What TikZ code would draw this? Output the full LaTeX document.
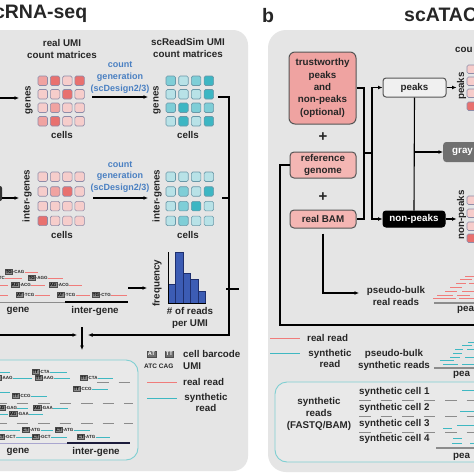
\documentclass[tikz,border=0pt]{standalone}
\usepackage{fontspec}
\setmainfont{Liberation Sans}
\usetikzlibrary{arrows.meta}
\definecolor{panelg}{HTML}{E5E5E5}
\definecolor{boxg}{HTML}{E9E9E9}
\definecolor{txt}{HTML}{262626}
\definecolor{bluetxt}{HTML}{4A80C2}
\definecolor{rA}{HTML}{F6CDCB}
\definecolor{rB}{HTML}{F0A3A1}
\definecolor{rC}{HTML}{E8716F}
\definecolor{tA}{HTML}{B8E2E7}
\definecolor{tB}{HTML}{7FCED7}
\definecolor{tC}{HTML}{3DB6C3}
\definecolor{rbord}{HTML}{8E8CA8}
\definecolor{tbord}{HTML}{6A98A8}
\definecolor{redline}{HTML}{F07C7A}
\definecolor{tealline}{HTML}{3FB8C2}
\definecolor{tealbox}{HTML}{7FCFD2}
\definecolor{histb}{HTML}{3C5CB4}
\definecolor{histd}{HTML}{1E2F6E}
\definecolor{pinkf}{HTML}{F4B6B3}
\definecolor{pinkd}{HTML}{EFA3A1}
\definecolor{boxb}{HTML}{555555}
\definecolor{chipg}{HTML}{8A8A8A}
\definecolor{chipd}{HTML}{6F6F6F}
\definecolor{grayzone}{HTML}{707070}
\definecolor{basegray}{HTML}{8C8C8C}
\definecolor{genelav}{HTML}{A9A6CF}
\definecolor{navy}{HTML}{1C1C3C}
\tikzset{
  lbl/.style={font=\fontsize{9.8}{11.8}\selectfont\bfseries, text=txt, align=center, inner sep=0pt},
  blu/.style={font=\fontsize{9}{11.6}\selectfont\bfseries, text=bluetxt, align=center, inner sep=0pt},
  ttl/.style={font=\fontsize{19.5}{21}\selectfont\bfseries, text=txt, inner sep=0pt},
  arr/.style={line width=1.1pt, -{Latex[length=4.5pt,width=4pt]}},
  ln/.style={line width=1.1pt},
  chip/.style={fill=chipg, draw=black!70, line width=0.3pt, font=\fontsize{4.5}{5}\selectfont\bfseries, inner xsep=0.6pt, inner ysep=1pt, text=black},
  umi/.style={font=\fontsize{4.5}{5}\selectfont\bfseries, inner sep=0pt, text=txt},
  chipL/.style={fill=chipd, draw=black!70, line width=0.3pt, font=\fontsize{5.5}{6}\selectfont\bfseries, inner xsep=0.8pt, inner ysep=1.2pt, text=white},
  umiL/.style={font=\fontsize{6.5}{7}\selectfont\bfseries, inner sep=0pt, text=txt},
  rread/.style={draw=redline, line width=1pt},
  sread/.style={draw=tealline, line width=1pt},
  pinkbox/.style={fill=pinkf, draw=boxb, line width=1pt, rounded corners=4pt, font=\fontsize{9.8}{12.3}\selectfont\bfseries, text=txt, align=center, inner sep=0pt},
  plus/.style={font=\fontsize{15}{15}\selectfont\bfseries, text=txt, inner sep=0pt},
  gdash/.style={draw=basegray, line width=1pt, dash pattern=on 11.5pt off 10pt},
  base/.style={draw=basegray, line width=1.6pt},
}
\newcommand\umimat[6]{%
  \foreach \mcol [count=\k from 0] in {#6} {%
    \pgfmathtruncatemacro\mrow{\k/4}%
    \pgfmathtruncatemacro\mcl{\k-4*\mrow}%
    \path[fill=\mcol, draw=#5, line width=0.6pt, rounded corners=1.5pt] ({#1+\mcl*#3},{#2+\mrow*#4}) rectangle ++(9.5,9.5);
  }}
\newcommand\rdd[6]{%
  \node[chip,anchor=west] (bcx) at (#1,#2) {#3};
  \node[umi,anchor=west] (umx) at (bcx.east) {-#4};
  \draw[#6] (umx.east) -- (#5,#2);}
\begin{document}
\begin{tikzpicture}[x=1pt,y=-1pt]
\useasboundingbox (0,0) rectangle (474,474);
\clip (0,0) rectangle (474,474);
\fill[white] (0,0) rectangle (474,474);
% panels
\path[fill=panelg, rounded corners=15pt] (-30,30) rectangle (248,471);
\path[fill=panelg, rounded corners=18pt] (268,30) rectangle (500,472);
% titles
\node[ttl, anchor=base west] (tA) at (-17,18.5) {scRNA-seq};
\node[ttl, anchor=base west] (tB) at (262,22) {b};
\node[ttl, anchor=base west] (tC) at (404,21.5) {scATAC};

% ---------- left panel ----------
\node[lbl] (t1) at (62,49) {real UMI\\count matrices};
\node[lbl] (t2) at (188,48) {scReadSim UMI\\count matrices};
\node[blu] (g1) at (120,77.5) {count\\generation\\(scDesign2/3)};
\node[blu] (g2) at (120,177) {count\\generation\\(scDesign2/3)};

\umimat{38}{76}{12.3}{13.5}{rbord}{rB,rC,rA,rC, rA,rA,rC,rA, rA,rB,rA,rA, rB,rC,rA,rA}
\umimat{166}{76}{12.7}{13.5}{tbord}{tB,tA,tB,tC, tA,tA,tA,tC, tB,tC,tB,tB, tA,tC,tA,tC}
\umimat{38}{172}{12.3}{14.7}{rbord}{rA,rA,rA,rA, rA,rB,rC,rA, rA,rA,rA,rA, rC,rA,rA,rA}
\umimat{166}{172}{12.7}{14.7}{tbord}{tA,tA,tA,tA, tA,tB,tA,tC, tA,tB,tC,tA, tA,tB,tA,tA}

\node[lbl,rotate=90] (gl1) at (29,100) {genes};
\node[lbl,rotate=90] (gl2) at (157,100) {genes};
\node[lbl] (c1) at (62,135) {cells};
\node[lbl] (c2) at (188,135) {cells};
\node[lbl,rotate=90] (il1) at (27,196) {inter-genes};
\node[lbl,rotate=90] (il2) at (157,196) {inter-genes};
\node[lbl] (c3) at (62,235) {cells};
\node[lbl] (c4) at (188,235) {cells};

\fill[black!80, rounded corners=2pt] (-10,186) rectangle (2,201);
\coordinate (in1) at (-5,98);
\coordinate (m1i) at (19,98);
\coordinate (in2) at (2,198);
\coordinate (m3i) at (19,198);
\draw[arr] (in1) -- (m1i);
\draw[arr] (in2) -- (m3i);
\draw[arr] (92,97) -- (148,97);
\draw[arr] (93,198) -- (148,198);
\draw[ln] (218,97) -| (229,198);
\draw[arr] (229,198) -- (229,335) -- (88,335);
\draw[ln] (222,198) -- (229,198);
\draw[ln] (226,289) -- (239,289);
\draw[arr] (-5,335) -- (77,335);
\draw[arr] (82,327) -- (82,350);

% real reads
\rdd{5}{272}{TG}{CAG}{38}{rread}
\rdd{-13}{278}{AT}{ATC}{22}{rread}
\rdd{28}{278}{TG}{AGG}{63}{rread}
\draw[rread] (-5,285) -- (8,285);
\rdd{11}{285}{AG}{ACG}{45}{rread}
\rdd{49}{285}{AG}{ACG}{82}{rread}
\draw[rread] (-5,295) -- (8,295);
\rdd{16}{295}{AT}{TCG}{50}{rread}
\rdd{57}{295}{AT}{TCG}{90}{rread}
\rdd{92}{295}{TG}{CTG}{127}{rread}
\draw[draw=basegray, line width=1pt] (-5,302) -- (65,302);
\draw[draw=black, line width=1.6pt] (65,302) -- (128,302);
\node[lbl] (gn1) at (18,311) {gene};
\node[lbl] (ig1) at (95,311) {inter-gene};
\draw[arr] (128,288) -- (147,288);

% histogram
\path[fill=histb, draw=histd, line width=0.5pt] (168,284) rectangle (175.5,303);
\path[fill=histb, draw=histd, line width=0.5pt] (175.5,252) rectangle (183,303);
\path[fill=histb, draw=histd, line width=0.5pt] (183,273) rectangle (190.5,303);
\path[fill=histb, draw=histd, line width=0.5pt] (190.5,279) rectangle (198,303);
\path[fill=histb, draw=histd, line width=0.5pt] (198,291) rectangle (205.5,303);
\draw[line width=1pt] (168,252) -- (168,303) -- (206,303);
\node[lbl,rotate=90] (fr) at (157,283) {frequency};
\node[lbl] (nr) at (190,318) {\# of reads\\per UMI};

% synthetic reads box
\draw[draw=tealbox, fill=boxg, line width=0.9pt, rounded corners=12pt] (-20,360) rectangle (138,460);
\draw[sread] (-5,372) -- (10,372);
\rdd{32}{372}{TT}{CTA}{67}{sread}
\rdd{-6}{378}{TT}{AAG}{32}{sread}
\rdd{35}{378}{TT}{AAG}{70}{sread}
\rdd{80}{378}{TT}{CTA}{113}{sread}
\draw[gdash] (97,382.5) -- (133,382.5);
\rdd{73}{389}{TT}{CCG}{108}{sread}
\draw[sread] (-5,392) -- (10,392);
\rdd{12}{396}{TT}{CCG}{47}{sread}
\draw[gdash] (-5,403) -- (133,403);
\rdd{-3}{408}{AG}{GAG}{28}{sread}
\rdd{33}{408}{AG}{GAA}{68}{sread}
\draw[sread] (-5,414) -- (8,414);
\rdd{9}{414}{AG}{GAA}{43}{sread}
\draw[gdash] (-5,423) -- (133,423);
\draw[sread] (-5,430) -- (20,430);
\rdd{22}{430}{CT}{ATG}{53}{sread}
\rdd{55}{430}{CT}{ATG}{90}{sread}
\rdd{-3}{437}{CT}{GCT}{32}{sread}
\rdd{32}{437}{CT}{GCT}{67}{sread}
\rdd{77}{437}{CT}{ATG}{110}{sread}
\draw[draw=genelav, line width=1pt] (-5,443) -- (67,443);
\draw[draw=navy, line width=1.6pt] (67,443) -- (130,443);
\node[lbl] (gn2) at (18,452) {gene};
\node[lbl] (ig2) at (96,452) {inter-gene};

% legend left
\node[chipL,anchor=west] (lAT) at (147,354) {AT};
\node[chipL,anchor=west] (lTT) at (165,354) {TT};
\node[lbl,anchor=west] (lcb) at (183,354) {cell barcode};
\node[umiL,anchor=west] (lumi) at (144,366) {ATC CAG};
\node[lbl,anchor=west] (lu) at (183,366) {UMI};
\draw[rread] (147,382) -- (177,382);
\node[lbl,anchor=west] (lrr) at (183,382) {real read};
\draw[sread] (147,398) -- (177,398);
\node[lbl] (lsr) at (206,402.5) {synthetic\\read};

% ---------- right panel ----------
\node[pinkbox, fill=pinkd, rounded corners=6pt, minimum width=67pt, minimum height=72pt] (trust) at (322.5,88) {trustworthy\\peaks\\and\\non-peaks\\(optional)};
\node[plus] (p1) at (323,137) {+};
\node[pinkbox, minimum width=66pt, minimum height=26pt] (ref) at (323,165) {reference\\genome};
\node[plus] (p2) at (323,197) {+};
\node[pinkbox, minimum width=66pt, minimum height=18pt] (bam) at (323,219) {real BAM};

\node[draw=boxb, fill=white!94!black, line width=1pt, rounded corners=3pt, minimum width=63pt, minimum height=19pt, inner sep=0pt, font=\fontsize{9.8}{11}\selectfont\bfseries, text=txt] (peaks) at (414.5,87.5) {peaks};
\node[draw=black, fill=black, line width=1pt, rounded corners=3pt, minimum width=62pt, minimum height=16pt, inner sep=0pt, font=\fontsize{9.8}{11}\selectfont\bfseries, text=white] (np) at (414,219) {non-peaks};
\node[fill=grayzone, rounded corners=3pt, anchor=west, minimum height=20pt, inner xsep=9pt, inner ysep=0pt, text width=40pt, align=left, font=\fontsize{9.8}{11}\selectfont\bfseries, text=white] (gz) at (443,152) {gray};

\draw[ln] (trust.east) -- (364,88) -- (364,219) -- (bam.east);
\draw[ln] (364,153) -- (372,153);
\draw[arr] (372,153) |- (peaks.west);
\draw[arr] (372,153) |- (np.west);
\draw[ln] (peaks.south) -- (np.north);
\draw[arr] (414,152) -- (gz.west);
\coordinate (pkin) at (456.5,87.5);
\coordinate (npin) at (456.5,219);
\draw[arr] (peaks.east) -- (pkin);
\draw[arr] (np.east) -- (npin);
\node[lbl,rotate=90] (pl) at (461.5,86) {peaks};
\node[lbl,rotate=90] (npl) at (461.5,215) {non-peaks};
\node[lbl,anchor=west] (cou) at (455,50) {cou};
\foreach \yy/\mc in {65/rA,77/rA,89/rA,102/rC}{
  \path[fill=\mc, draw=rbord, line width=0.6pt, rounded corners=1.5pt] (467,\yy) rectangle ++(9.5,8.5);}
\foreach \yy/\mc in {196/rA,209/rA,222/rA,234/rC}{
  \path[fill=\mc, draw=rbord, line width=0.6pt, rounded corners=1.5pt] (467,\yy) rectangle ++(9.5,8.5);}

\draw[ln] (ref.west) -- (280,165) -- (280,325) -- (480,325);
\coordinate (pbin) at (359,293);
\draw[arr] ([yshift=-5pt]bam.south) |- (pbin);
\node[lbl] (pbr) at (396,296) {pseudo-bulk\\real reads};

% red pile
\draw[rread] (465,276) -- (480,276);
\draw[rread] (460,279.5) -- (472,279.5);
\draw[rread] (456,283) -- (466,283);
\draw[rread] (469,283) -- (480,283);
\draw[rread] (450,287) -- (462,287);
\draw[rread] (445,291) -- (457,291);
\draw[rread] (462,291) -- (480,291);
\draw[rread] (437,295) -- (453,295);
\draw[rread] (457,295) -- (470,295);
\draw[rread] (433,298.5) -- (456,298.5);
\draw[rread] (459,298.5) -- (480,298.5);
\draw[base] (434,303) -- (480,303);
\node[lbl,anchor=west] (pea1) at (457,309.5) {pea};

% legend right
\draw[rread] (270,338) -- (300,338);
\node[lbl,anchor=west] (rrr) at (307,338) {real read};
\draw[sread] (270,353) -- (300,353);
\node[lbl] (rsr) at (330,358.5) {synthetic\\read};
\node[lbl] (pbs) at (394,360) {pseudo-bulk\\synthetic reads};

% teal pile
\draw[sread] (468,342) -- (480,342);
\draw[sread] (462,345.5) -- (472,345.5);
\draw[sread] (455,349) -- (463,349);
\draw[sread] (467,349) -- (480,349);
\draw[sread] (453,353) -- (462,353);
\draw[sread] (450,357) -- (460,357);
\draw[sread] (465,357) -- (480,357);
\draw[sread] (440,360.5) -- (454,360.5);
\draw[sread] (443,364) -- (458,364);
\draw[sread] (462,364) -- (480,364);
\draw[base] (434,368) -- (480,368);
\node[lbl,anchor=west] (pea2) at (453,375) {pea};

% synthetic cells box
\draw[draw=tealbox, fill=boxg, line width=0.9pt, rounded corners=12pt] (275,382) rectangle (500,462);
\node[lbl] (sfq) at (319,414) {synthetic\\reads\\(FASTQ/BAM)};
\node[lbl,anchor=west] (sc1) at (359,392) {synthetic cell 1};
\node[lbl,anchor=west] (sc2) at (359,408) {synthetic cell 2};
\node[lbl,anchor=west] (sc3) at (359,424) {synthetic cell 3};
\node[lbl,anchor=west] (sc4) at (359,439) {synthetic cell 4};
\draw[gdash] (359,400) -- (480,400);
\draw[gdash] (359,416) -- (480,416);
\draw[gdash] (359,432) -- (480,432);
\draw[sread] (462,390) -- (480,390);
\draw[sread] (460,411) -- (480,411);
\draw[sread] (443,428) -- (452,428);
\draw[sread] (457,425) -- (480,425);
\draw[sread] (453,438) -- (462,438);
\draw[sread] (452,443) -- (462,443);
\draw[sread] (470,443) -- (480,443);
\draw[base] (436,448) -- (480,448);
\node[lbl,anchor=west] (pea3) at (453,457) {pea};
\end{tikzpicture}
\end{document}
